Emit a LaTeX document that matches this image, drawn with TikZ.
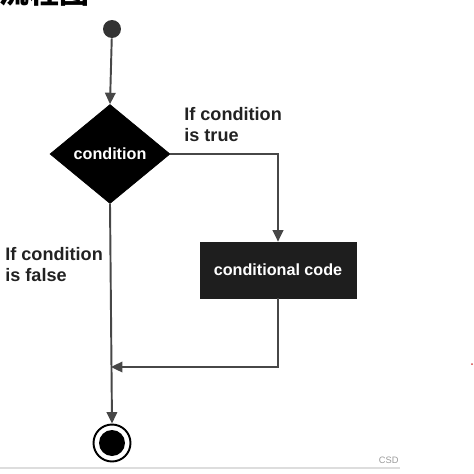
\documentclass[tikz,border=0pt]{standalone}
\usepackage{fontspec}
\setmainfont{Liberation Sans}
\newfontfamily\cjk{Noto Sans CJK SC}
\usetikzlibrary{shapes.geometric,arrows.meta,positioning}
\definecolor{fcink}{HTML}{222222}
\definecolor{fcbox}{HTML}{1E1E1E}
\definecolor{fcline}{HTML}{474747}
\definecolor{fcdot}{HTML}{333333}
\definecolor{fcrule}{HTML}{DDDDDD}
\definecolor{fcmark}{HTML}{9A9A9A}
\definecolor{fcred}{HTML}{D04040}
\tikzset{
  startdot/.style={circle,fill=fcdot,inner sep=0pt,minimum size=0.36cm},
  dec/.style={diamond,fill=black,draw=black,aspect=1.2,inner sep=0pt,
              minimum width=2.4cm,minimum height=1.98cm,text=white,
              font=\fontsize{9.2}{11}\selectfont\bfseries},
  codebox/.style={rectangle,fill=fcbox,draw=fcbox,inner sep=0pt,
                  minimum width=3.12cm,minimum height=1.12cm,text=white,
                  font=\fontsize{9.2}{11}\selectfont\bfseries},
  enddot/.style={circle,draw=black,line width=1.1pt,fill=white,inner sep=0pt,
                 minimum size=0.74cm,
                 path picture={\fill[black] (path picture bounding box.center) circle (0.26cm);}},
  lbl/.style={anchor=north west,inner sep=0pt,align=left,text=fcink,
              font=\fontsize{10.3}{11.9}\selectfont\bfseries},
  flow/.style={-{Triangle[length=6.5pt,width=6pt]},line width=1.1pt,draw=fcline},
}
\begin{document}
\begin{tikzpicture}[x=0.02cm,y=-0.02cm]
  \useasboundingbox (0,0) rectangle (474,474);
  % title, cut off at the top edge
  \node[anchor=base west,inner sep=0pt,font=\fontsize{17}{17}\cjk\bfseries,text=black] (title) at (-1,3) {流程图};
  \node[startdot] (start) at (112,29) {};
  \node[dec] (cond) at (110,154) {condition};
  \node[codebox] (code) at (278,270) {conditional code};
  \node[enddot] (stop) at (112,443) {};
  \coordinate (merge) at (111,367);
  \draw[flow] (start) -- (cond.north);
  \draw[flow] (cond.east) -| (code.north);
  \draw[flow] (code.south) |- (merge);
  \draw[flow] (cond.south) -- (stop.north);
  \node[lbl] (truelbl) at (184,107) {If condition\\is true};
  \node[lbl] (falselbl) at (5,247) {If condition\\is false};
  % footer
  \draw[fcrule,line width=0.6pt] (0,468) -- (400,468);
  \node[anchor=base east,inner sep=0pt,text=fcmark,font=\fontsize{5.3}{6}\selectfont] (mark) at (399,463) {CSD};
  \fill[fcred] (472,364) circle (1);
\end{tikzpicture}
\end{document}
